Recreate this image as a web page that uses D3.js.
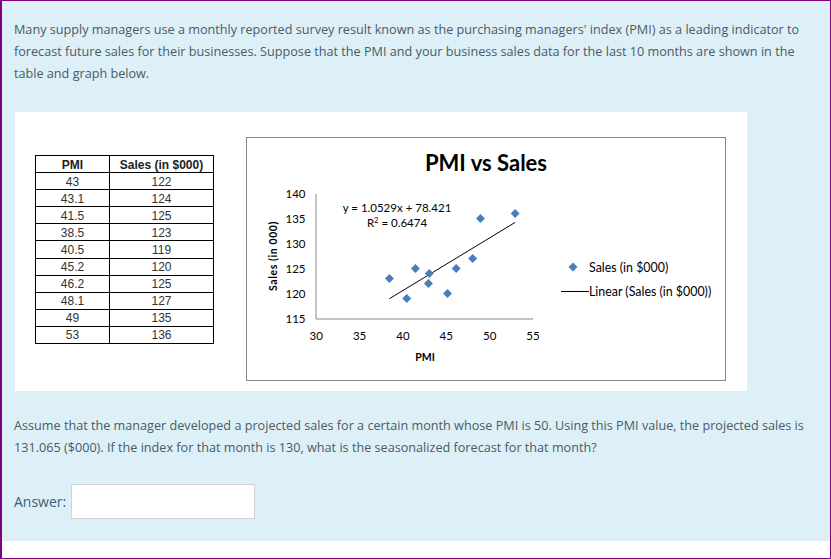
<!DOCTYPE html>
<html><head><meta charset="utf-8">
<script src="https://cdn.jsdelivr.net/npm/d3@7"></script>
<style>
html,body{margin:0;padding:0;background:#fff;}
svg{display:block;}
</style></head>
<body>
<svg id="c" width="831" height="559"></svg>
<script>
// ---------- data ----------
const pmi = [43, 43.1, 41.5, 38.5, 40.5, 45.2, 46.2, 48.1, 49, 53];
const sales = [122, 124, 125, 123, 119, 120, 125, 127, 135, 136];
const xTicks = [30, 35, 40, 45, 50, 55];
const yTicks = [115, 120, 125, 130, 135, 140];
const tableHeaders = ["PMI", "Sales (in $000)"];
const chartTitle = "PMI vs Sales";
const xTitle = "PMI";
const yTitle = "Sales  (in 000)";
const legendLabels = ["Sales (in $000)", "Linear (Sales (in $000))"];
const introLines = [
  "Many supply managers use a monthly reported survey result known as the purchasing managers' index (PMI) as a leading indicator to",
  "forecast future sales for their businesses. Suppose that the PMI and your business sales data for the last 10 months are shown in the",
  "table and graph below."
];
const questionLines = [
  "Assume that the manager developed a projected sales for a certain month whose PMI is 50. Using this PMI value, the projected sales is",
  "131.065 ($000). If the index for that month is 130, what is the seasonalized forecast for that month?"
];

const svg = d3.select("#c");
const textFont = "'Open Sans', 'Noto Sans', sans-serif";
const chartFont = "Lato, 'Open Sans', sans-serif";
const textColor = "#4b5a66";

// page background
svg.append("rect").attr("x",0).attr("y",0).attr("width",831).attr("height",559).attr("fill","#fff");
svg.append("rect").attr("x",1).attr("y",1).attr("width",829).attr("height",540).attr("fill","#def0f7");
svg.append("rect").attr("x",0.5).attr("y",0.5).attr("width",830).attr("height",558)
  .attr("fill","none").attr("stroke","#800080").attr("stroke-width",1);
svg.append("line").attr("x1",1.5).attr("x2",1.5).attr("y1",0).attr("y2",559).attr("stroke","#800080");

// intro text
svg.selectAll("text.intro").data(introLines).join("text").attr("class","intro")
  .attr("x",14).attr("y",(d,i)=>33.5+i*22)
  .attr("font-family",textFont).attr("font-size",12.65).attr("fill",textColor)
  .text(d=>d);

// white image area
svg.append("rect").attr("x",15).attr("y",112).attr("width",732).attr("height",279).attr("fill","#fff");

// ---------- table ----------
const tbl = svg.append("g");
const tX0 = 35.5, tX1 = 109.5, tX2 = 213.5, tY0 = 155.5, rowH = 17.09;
const nRows = pmi.length + 1;
tbl.append("rect").attr("x",tX0).attr("y",tY0).attr("width",tX2-tX0).attr("height",rowH*nRows)
  .attr("fill","#fff").attr("stroke","#000").attr("stroke-width",1);
tbl.append("line").attr("x1",tX1).attr("x2",tX1).attr("y1",tY0).attr("y2",tY0+rowH*nRows).attr("stroke","#000");
d3.range(1,nRows).forEach(i=>{
  const y = Math.round(tY0 + i*rowH - 0.5)+0.5;
  tbl.append("line").attr("x1",tX0).attr("x2",tX2).attr("y1",y).attr("y2",y).attr("stroke","#000");
});
const tFont = "'Liberation Sans', Arial, sans-serif";
tableHeaders.forEach((h,j)=>{
  tbl.append("text").attr("x", j===0 ? (tX0+tX1)/2 : (tX1+tX2)/2).attr("y", tY0 + rowH/2 + 4.5)
    .attr("text-anchor","middle").attr("font-family",tFont).attr("font-size",12).attr("font-weight","bold")
    .attr("fill","#222").text(h);
});
pmi.forEach((p,i)=>{
  const y = tY0 + (i+1)*rowH + rowH/2 + 4.5;
  tbl.append("text").attr("x",(tX0+tX1)/2).attr("y",y).attr("text-anchor","middle")
    .attr("font-family",tFont).attr("font-size",12).attr("fill","#333").text(p);
  tbl.append("text").attr("x",(tX1+tX2)/2).attr("y",y).attr("text-anchor","middle")
    .attr("font-family",tFont).attr("font-size",12).attr("fill","#333").text(sales[i]);
});

// ---------- chart ----------
svg.append("rect").attr("x",246.5).attr("y",137.5).attr("width",479).attr("height",243)
  .attr("fill","#fff").attr("stroke","#868686").attr("stroke-width",1);

svg.append("text").attr("x",486).attr("y",171).attr("text-anchor","middle")
  .attr("font-family",chartFont).attr("font-size",22).attr("font-weight","bold").attr("fill","#000")
  .text(chartTitle);

const x = d3.scaleLinear().domain([30,55]).range([315.7,532.5]);
const y = d3.scaleLinear().domain([115,140]).range([318.5,193.5]);

const yAxis = d3.axisLeft(y).tickValues(yTicks).tickSize(0).tickPadding(10);
const gy = svg.append("g").attr("transform","translate(315.5,0)").call(yAxis);
gy.select(".domain").attr("stroke","#868686");
gy.selectAll("text").attr("font-family",chartFont).attr("font-size",11.5).attr("fill","#000");

const xAxis = d3.axisBottom(x).tickValues(xTicks).tickSize(0).tickPadding(13);
const gx = svg.append("g").attr("transform","translate(0,318.5)").call(xAxis);
gx.select(".domain").attr("stroke","#868686");
gx.selectAll("text").attr("font-family",chartFont).attr("font-size",11.5).attr("fill","#000");

svg.append("text").attr("x",425).attr("y",361).attr("text-anchor","middle")
  .attr("font-family",chartFont).attr("font-size",10.5).attr("font-weight","bold").text(xTitle);
svg.append("text").attr("transform","translate(277,256) rotate(-90)").attr("text-anchor","middle")
  .attr("font-family",chartFont).attr("font-size",10.5).attr("font-weight","bold")
  .attr("letter-spacing",0.6).text(yTitle);

// regression
const mx = d3.mean(pmi), my = d3.mean(sales);
const sxy = d3.sum(pmi.map((p,i)=>(p-mx)*(sales[i]-my)));
const sxx = d3.sum(pmi.map(p=>(p-mx)*(p-mx)));
const syy = d3.sum(sales.map(s=>(s-my)*(s-my)));
const slope = sxy/sxx, intercept = my - slope*mx;
const r2 = (sxy*sxy)/(sxx*syy);
const xr = d3.extent(pmi);
svg.append("line")
  .attr("x1",x(xr[0])).attr("y1",y(slope*xr[0]+intercept))
  .attr("x2",x(xr[1])).attr("y2",y(slope*xr[1]+intercept))
  .attr("stroke","#000").attr("stroke-width",1);

// points
const diamond = d3.symbol().type(d3.symbolSquare).size(40);
svg.selectAll("path.pt").data(pmi).join("path").attr("class","pt")
  .attr("d",diamond)
  .attr("transform",(d,i)=>`translate(${x(d)},${y(sales[i])}) rotate(45)`)
  .attr("fill","#4a7ebb");

// equation label
svg.append("text").attr("x",397).attr("y",212).attr("text-anchor","middle")
  .attr("font-family",chartFont).attr("font-size",11.5).attr("fill","#000")
  .text(`y = ${slope.toFixed(4)}x + ${intercept.toFixed(3)}`);
const r2t = svg.append("text").attr("x",397).attr("y",227).attr("text-anchor","middle")
  .attr("font-family",chartFont).attr("font-size",11.5).attr("fill","#000");
r2t.append("tspan").text("R");
r2t.append("tspan").attr("font-size",7.5).attr("dy",-4).text("2");
r2t.append("tspan").attr("dy",4).text(` = ${r2.toFixed(4)}`);

// legend
svg.append("path").attr("d",diamond).attr("transform","translate(573,267) rotate(45)").attr("fill","#4a7ebb");
svg.append("text").attr("x",589).attr("y",271.5).attr("font-family",chartFont).attr("font-size",12.4)
  .attr("fill","#000").text(legendLabels[0]);
svg.append("line").attr("x1",561).attr("x2",589).attr("y1",291.5).attr("y2",291.5).attr("stroke","#000");
svg.append("text").attr("x",589).attr("y",296).attr("font-family",chartFont).attr("font-size",12.4)
  .attr("fill","#000").text(legendLabels[1]);

// question
svg.selectAll("text.q").data(questionLines).join("text").attr("class","q")
  .attr("x",14).attr("y",(d,i)=>429.5+i*22)
  .attr("font-family",textFont).attr("font-size",12.65).attr("fill",textColor)
  .text(d=>d);

svg.append("text").attr("x",14).attr("y",507).attr("font-family",textFont).attr("font-size",14)
  .attr("fill","#3f5f78").text("Answer:");
svg.append("rect").attr("x",71.5).attr("y",484.5).attr("width",183).attr("height",34)
  .attr("fill","#fff").attr("stroke","#ced4da").attr("stroke-width",1);
</script>
</body></html>
